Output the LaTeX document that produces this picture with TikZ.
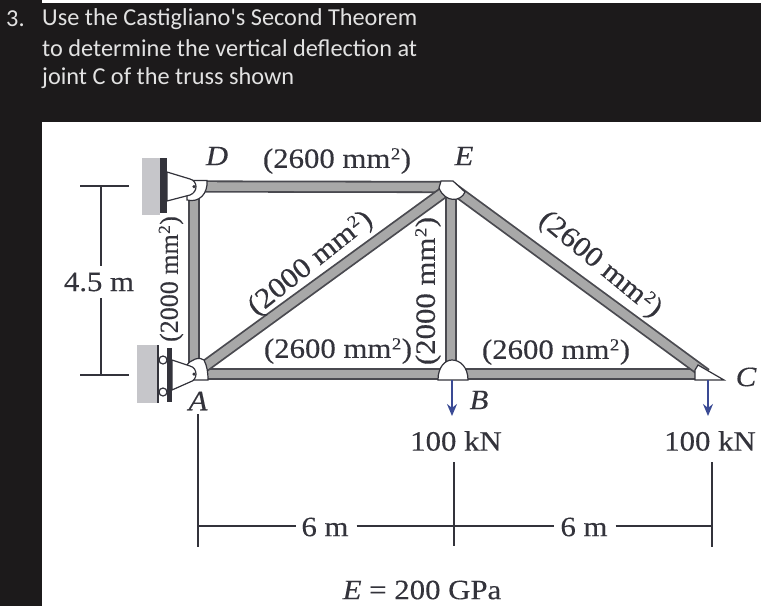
\documentclass[tikz,border=0pt]{standalone}
\usepackage{fontspec}
\setmainfont{Liberation Serif}
\newfontfamily\headfont{Carlito}
\newfontfamily\widefont[FakeStretch=1.1,FakeBold=0.25]{Liberation Serif}
\newfontfamily\plainfont[FakeBold=0.25]{Liberation Serif}
\newcommand{\sq}{\kern0.5pt\raisebox{0.3em}{\fontsize{17}{17}\selectfont 2}\kern0.5pt}
\usetikzlibrary{arrows.meta}
\definecolor{ink}{HTML}{33333B}
\definecolor{edge}{HTML}{4A4A50}
\definecolor{memberfill}{HTML}{A8A8A8}
\definecolor{wallfill}{HTML}{C6C6CA}
\definecolor{loadblue}{HTML}{3A4A94}
\definecolor{panel}{HTML}{1C1A1B}
\definecolor{headtext}{HTML}{E2E2E2}
\tikzset{
  x=1pt,y=-1pt,
  member/.style={draw=edge,line width=1.8pt,double=memberfill,double distance=8.6pt,line cap=butt},
  gusset/.style={draw=ink,line width=1.2pt,fill=white},
  dimline/.style={draw=ink,line width=1.2pt},
  lab/.style={font=\widefont\fontsize{28}{30}\selectfont,text=ink,inner sep=0pt},
  ulab/.style={font=\plainfont\fontsize{26}{28}\selectfont,text=ink,inner sep=0pt},
  dlab/.style={font=\widefont\fontsize{28.5}{30}\selectfont,text=ink,inner sep=0pt},
  ilab/.style={font=\widefont\itshape\fontsize{28}{30}\selectfont,text=ink,inner sep=0pt},
  head/.style={font=\headfont\fontsize{24.3}{30}\selectfont,text=headtext,inner sep=0pt,anchor=west},
  load/.style={draw=loadblue,line width=1.6pt,-{Stealth[length=12pt,width=10pt]}},
  pin/.style={circle,fill=ink,inner sep=0pt,minimum size=3.5pt},
}
\begin{document}
\begin{tikzpicture}
\useasboundingbox (0,0) rectangle (761,606);
\fill[panel] (0,0) rectangle (761,606);
\fill[white] (42,122) rectangle (761,606);
\fill[white] (42,0) rectangle (761,2.5);
% heading
\node[head] (num) at (6,19) {3.};
\node[head] (h1) at (42,19) {Use the Castigliano's Second Theorem};
\node[head] (h2) at (42,48) {to determine the vertical deflection at};
\node[head] (h3) at (42,78) {joint C of the truss shown};
% joints
\coordinate (D) at (194,186.5);
\coordinate (E) at (451,187);
\coordinate (A) at (194,374);
\coordinate (B) at (451,374);
\coordinate (C) at (706,374);
% supports
\fill[wallfill] (142,158) rectangle (160,215);
\fill[ink] (160,158) rectangle (167,213);
\fill[wallfill] (137,345) rectangle (157,403);
\draw[ink,line width=1.6pt] (158,345) -- (158,403);
\fill[ink] (167,348) rectangle (172,402);
\draw[ink,line width=1.2pt,fill=white] (163,360) circle (4);
\draw[ink,line width=1.2pt,fill=white] (163,392) circle (4);
% members
\draw[member] (D) -- (E);
\draw[member] (A) -- (C);
\draw[member] (D) -- (A);
\draw[member] (E) -- (B);
\draw[member] (A) -- (E);
\draw[member] (E) -- (C);
% gusset plates
\draw[gusset] (187,200) .. controls (199,203) and (208,194) .. (207,180.5) -- (189,180.5) -- (187,190) -- cycle;
\draw[gusset] (187,365) .. controls (190,360) and (200,356) .. (204,360) .. controls (207,366) and (208,372) .. (208,380) -- (187,380) -- cycle;
\draw[gusset] (439,188) -- (441,181) -- (453,181) -- (465,192) .. controls (461,202) and (445,203) .. (439,188) -- cycle;
\draw[gusset] (438,380) .. controls (438,367) and (445,360) .. (452,360) .. controls (460,360) and (468,367) .. (468,380) -- cycle;
\draw[gusset] (695,380) -- (695,370) -- (698,365) -- (724,380) -- cycle;
\draw[gusset] (167,172) -- (190,179) .. controls (198,181) and (198,192) .. (190,195) -- (167,201) -- cycle;
\draw[gusset] (172,360) -- (190,366) .. controls (198,368) and (198,380) .. (190,382) -- (172,390) -- cycle;
\node[pin] (pinD) at (D) {};
\node[pin] (pinA) at (A) {};
% loads
\coordinate (LB) at (452,416);
\coordinate (LC) at (708,416);
\coordinate (LBs) at (452,380);
\coordinate (LCs) at (708,380);
\draw[load] (LBs) -- (LB);
\draw[load] (LCs) -- (LC);
% labels
\node[ilab] (lD) at (217,156) {D};
\node[lab] (l1) at (337,161) {(2600 mm\sq)};
\node[ilab] (lE) at (464,156) {E};
\node[dlab] (l2) at (311,264) [rotate=38.5] {(2000 mm\sq)};
\node[dlab] (l3) at (600,265) [rotate=-39.5] {(2600 mm\sq)};
\node[ulab] (l4) at (171,279) [rotate=90] {(2000 mm\sq)};
\node[lab] (l5) at (428,291) [rotate=90] {(2000 mm\sq)};
\node[lab] (l6) at (338,351) {(2600 mm\sq)};
\node[lab] (l7) at (556,352) {(2600 mm\sq)};
\node[ilab] (lA) at (198,401) {A};
\node[ilab] (lB) at (479,400) {B};
\node[ilab] (lC) at (746,377) {C};
\node[lab] (fB) at (456,441) {100 kN};
\node[lab] (fC) at (710,441) {100 kN};
\node[lab] (h) at (99,282) {4.5 m};
\node[lab] (s1) at (325,527) {6 m};
\node[lab] (s2) at (584,527) {6 m};
\node[lab] (mod) at (422,590) {\textit{E} = 200 GPa};
% dimensions
\coordinate (hT) at (101,186);
\coordinate (hB) at (101,375);
\coordinate (v1) at (198,526);
\coordinate (v2) at (454,526);
\coordinate (v3) at (712,526);
\draw[dimline] (80,186) -- (129,186);
\draw[dimline] (80,375) -- (129,375);
\draw[dimline,shorten >=6pt] (hT) -- (h.north -| hT);
\draw[dimline,shorten >=6pt] (hB) -- (h.south -| hB);
\draw[dimline] (198,414) -- (198,547);
\draw[dimline] (454,462) -- (454,546);
\draw[dimline] (712,462) -- (712,547);
\draw[dimline,shorten >=5pt] (v1) -- (s1.west |- v1);
\draw[dimline,shorten <=8pt] (s1.east |- v2) -- (v2);
\draw[dimline,shorten >=6pt] (v2) -- (s2.west |- v2);
\draw[dimline,shorten <=8pt] (s2.east |- v3) -- (v3);
\end{tikzpicture}
\end{document}
